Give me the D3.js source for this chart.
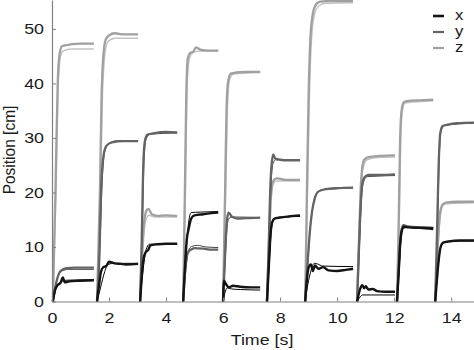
<!DOCTYPE html>
<html>
<head>
<meta charset="utf-8">
<script src="https://cdn.jsdelivr.net/npm/d3@7"></script>
<style>
  html, body { margin: 0; padding: 0; background: #fff; }
  svg { display: block; font-family: "Liberation Sans", Arial, sans-serif; }
</style>
</head>
<body>
<svg id="chart" width="474" height="350"></svg>
<script>
// ---------- data (time [s], position [cm]) ----------
const channels = ["x", "y", "z"];
const xTicks = [0, 2, 4, 6, 8, 10, 12, 14];
const yTicks = [0, 10, 20, 30, 40, 50];

// each channel: list of step segments, each a list of [t, value]
const zMeasured = [
  [[0.03,0],[0.12,20],[0.2,40],[0.27,45.5],[0.35,46.8],[0.5,47.0],[0.7,47.2],[1.0,47.3],[1.47,47.3]],
  [[1.58,0],[1.68,20],[1.74,38],[1.8,45],[1.88,48],[2.0,48.8],[2.2,49.2],[2.5,49.0],[3.02,49.0]],
  [[3.09,0],[3.15,8],[3.22,14],[3.3,16.5],[3.38,17.0],[3.5,16.0],[3.7,15.7],[4.0,15.8],[4.39,15.7]],
  [[4.6,0],[4.66,20],[4.71,38],[4.76,44.5],[4.85,45.6],[4.95,45.8],[5.05,46.6],[5.2,46.2],[5.5,46.0],[5.83,46.0]],
  [[6.0,0],[6.07,20],[6.12,35],[6.18,40.5],[6.27,41.8],[6.45,42.0],[6.8,42.1],[7.3,42.1]],
  [[7.54,0],[7.6,9],[7.66,18],[7.72,21.5],[7.8,22.4],[7.9,22.6],[8.2,22.3],[8.7,22.3]],
  [[8.88,0],[8.94,20],[9.0,38],[9.06,48],[9.14,52.5],[9.24,54.3],[9.4,55.0],[9.7,55.1],[10.56,55.1]],
  [[10.7,0],[10.76,10],[10.82,20],[10.88,24.5],[10.95,26.0],[11.1,26.5],[11.5,26.7],[12.03,26.8]],
  [[12.1,0],[12.16,15],[12.21,30],[12.26,35],[12.33,36.5],[12.5,36.8],[12.9,36.9],[13.37,37.0]],
  [[13.44,0],[13.5,7],[13.56,13],[13.62,16.5],[13.7,17.8],[13.85,18.2],[14.2,18.3],[14.8,18.3]]
];
const zReference = [
  [[0.03,0],[0.14,20],[0.22,40],[0.3,45],[0.4,46],[0.7,46.3],[1.47,46.3]],
  [[1.58,0],[1.7,20],[1.77,38],[1.85,45],[1.95,47.6],[2.2,48.3],[3.02,48.3]],
  [[3.09,0],[3.18,9],[3.27,14.5],[3.4,15.8],[3.6,15.5],[4.39,15.5]],
  [[4.6,0],[4.68,20],[4.73,38],[4.8,44],[4.9,45.5],[5.1,45.9],[5.83,46.0]],
  [[6.0,0],[6.09,20],[6.15,35],[6.22,40.5],[6.35,41.7],[7.3,42.0]],
  [[7.54,0],[7.62,10],[7.7,19.5],[7.78,21.8],[7.9,22.1],[8.7,22.1]],
  [[8.88,0],[8.96,20],[9.03,38],[9.1,48],[9.2,52.5],[9.35,54.2],[9.6,54.7],[10.56,54.8]],
  [[10.7,0],[10.78,10],[10.84,20],[10.92,24.8],[11.05,26.0],[11.4,26.4],[12.03,26.5]],
  [[12.1,0],[12.18,15],[12.23,30],[12.29,35],[12.38,36.4],[13.37,36.8]],
  [[13.44,0],[13.52,8],[13.58,14],[13.66,17],[13.8,17.9],[14.8,18.1]]
];
const yMeasured = [
  [[0.03,0],[0.15,3.5],[0.25,5.2],[0.35,5.8],[0.5,6.1],[0.8,6.2],[1.47,6.2]],
  [[1.58,0],[1.66,8],[1.72,20],[1.8,26.5],[1.9,28.5],[2.1,29.2],[2.5,29.4],[3.02,29.4]],
  [[3.09,0],[3.15,12],[3.2,25],[3.26,29.5],[3.35,30.6],[3.6,30.9],[4.0,31.1],[4.39,31.0]],
  [[4.6,0],[4.66,5],[4.72,8],[4.8,9.2],[4.9,9.6],[5.0,9.8],[5.3,9.7],[5.6,9.5],[5.83,9.5]],
  [[6.0,0],[6.05,6],[6.1,12],[6.15,15.5],[6.2,16.3],[6.3,15.6],[6.5,15.2],[6.8,15.3],[7.3,15.4]],
  [[7.54,0],[7.6,10],[7.65,20],[7.7,25],[7.76,27.0],[7.83,26.2],[8.0,26.0],[8.3,25.9],[8.7,25.9]],
  [[8.88,0],[8.95,6],[9.03,12],[9.12,16.5],[9.22,19],[9.35,20.2],[9.6,20.6],[10.0,20.8],[10.56,20.9]],
  [[10.7,0],[10.76,9],[10.82,17],[10.88,21.5],[10.96,22.8],[11.1,23.2],[11.5,23.2],[12.03,23.3]],
  [[12.1,0],[12.15,5],[12.2,10],[12.26,13.2],[12.33,14.0],[12.45,13.8],[12.8,13.6],[13.37,13.5]],
  [[13.44,0],[13.5,12],[13.56,25],[13.62,31],[13.7,32.2],[13.85,32.4],[14.2,32.7],[14.8,32.8]]
];
const yReference = [
  [[0.03,0],[0.2,4.5],[0.35,5.6],[0.6,5.9],[1.47,5.9]],
  [[1.58,0],[1.68,10],[1.76,22],[1.85,27.5],[2.0,29],[2.3,29.5],[3.02,29.5]],
  [[3.09,0],[3.17,14],[3.23,26],[3.3,29.8],[3.45,30.7],[4.39,30.9]],
  [[4.6,0],[4.7,6],[4.78,9.3],[4.9,10.1],[5.1,10.3],[5.4,10.0],[5.83,9.9]],
  [[6.0,0],[6.07,7],[6.13,13],[6.2,15.2],[6.35,15.5],[7.3,15.4]],
  [[7.54,0],[7.62,11],[7.68,21],[7.75,25.3],[7.85,26],[8.7,26]],
  [[8.88,0],[8.97,7],[9.05,13],[9.15,17.5],[9.28,19.8],[9.5,20.5],[10.56,20.8]],
  [[10.7,0],[10.78,10],[10.85,18.5],[10.93,22],[11.05,22.9],[12.03,23.1]],
  [[12.1,0],[12.17,6],[12.22,11],[12.29,13.5],[12.4,13.8],[13.37,13.6]],
  [[13.44,0],[13.52,13],[13.58,26],[13.65,31.3],[13.78,32.3],[14.8,32.7]]
];
const xMeasured = [
  [[0.03,0],[0.1,2.0],[0.2,3.0],[0.3,3.4],[0.38,4.4],[0.45,3.5],[0.6,3.7],[1.0,3.8],[1.47,3.9]],
  [[1.58,0],[1.65,3],[1.72,5.5],[1.8,6.3],[1.9,6.5],[2.0,7.3],[2.2,7.0],[2.4,6.9],[2.6,6.8],[3.02,6.9]],
  [[3.09,0],[3.14,4],[3.2,7.5],[3.28,9],[3.38,9.5],[3.45,10.3],[3.7,10.5],[4.0,10.6],[4.39,10.6]],
  [[4.6,0],[4.66,6],[4.72,11],[4.8,13.5],[4.88,15.2],[5.0,15.8],[5.3,16.0],[5.6,16.2],[5.83,16.3]],
  [[6.0,0],[6.03,3.8],[6.1,3.2],[6.2,2.6],[6.35,2.9],[6.6,2.7],[7.0,2.6],[7.3,2.6]],
  [[7.54,0],[7.6,6],[7.66,12],[7.72,14.5],[7.8,15.2],[8.0,15.4],[8.3,15.6],[8.7,15.8]],
  [[8.88,0],[8.94,4],[9.0,6.2],[9.08,6.8],[9.15,5.6],[9.22,6.6],[9.35,6.0],[9.5,6.3],[9.7,5.7],[10.0,5.6],[10.3,5.8],[10.56,6.0]],
  [[10.7,0],[10.75,1.2],[10.8,2.2],[10.88,3.0],[10.95,2.4],[11.0,2.8],[11.1,2.2],[11.25,2.3],[11.4,1.9],[11.7,1.8],[12.03,1.8]],
  [[12.1,0],[12.16,5.5],[12.21,10.5],[12.27,13.0],[12.34,13.7],[12.5,13.6],[12.9,13.5],[13.37,13.3]],
  [[13.44,0],[13.5,4],[13.56,7.5],[13.63,10.0],[13.72,10.8],[13.9,11.0],[14.3,11.2],[14.8,11.2]]
];
const xReference = [
  [[0.03,0],[0.15,2.5],[0.3,3.6],[0.5,3.9],[1.47,4.0]],
  [[1.58,0],[1.7,2.5],[1.85,5.5],[1.95,6.8],[2.2,7.0],[3.02,7.0]],
  [[3.09,0],[3.2,6],[3.3,9.5],[3.42,10.5],[4.39,10.6]],
  [[4.6,0],[4.7,9],[4.78,14],[4.88,16.3],[5.2,16.4],[5.83,16.5]],
  [[6.0,0],[6.06,1.5],[6.15,2.5],[6.3,2.3],[6.6,2.2],[7.3,2.1]],
  [[7.54,0],[7.62,7],[7.7,13.5],[7.78,15.0],[7.9,15.4],[8.7,15.6]],
  [[8.88,0],[8.95,2.5],[9.05,5],[9.2,7.0],[9.3,6.9],[9.5,6.5],[10.56,6.4]],
  [[10.7,0],[10.8,0.8],[10.9,1.2],[11.2,1.2],[12.03,1.2]],
  [[12.1,0],[12.18,6.5],[12.24,11.5],[12.3,13.4],[12.45,13.6],[13.37,13.5]],
  [[13.44,0],[13.52,5],[13.6,9],[13.68,10.6],[13.85,11.0],[14.8,11.1]]
];

// ---------- drawing ----------
const svg = d3.select("#chart");
const padL = 52, axisY = 301.5, padR = 474, padT = 0;
const xs = d3.scaleLinear().domain([0, 14.8]).range([padL, padR]);
const ys = d3.scaleLinear().domain([0, 55.3]).range([axisY, padT]);

const line = d3.line().x(d => xs(d[0])).y(d => ys(d[1])).curve(d3.curveMonotoneX);

const styles = {
  z: { meas: zMeasured, ref: zReference, color: "#a0a0a0", refColor: "#c4c4c4", w: 2.3 },
  y: { meas: yMeasured, ref: yReference, color: "#646464", refColor: "#444444", w: 2.3 },
  x: { meas: xMeasured, ref: xReference, color: "#141414", refColor: "#000000", w: 2.4 }
};

const plot = svg.append("g");
["z", "y", "x"].forEach(k => {
  const s = styles[k];
  plot.append("g").selectAll("path").data(s.ref).join("path")
    .attr("d", line).attr("fill", "none")
    .attr("stroke", s.refColor).attr("stroke-width", k === "z" ? 1.5 : 1);
  plot.append("g").selectAll("path").data(s.meas).join("path")
    .attr("d", line).attr("fill", "none")
    .attr("stroke", s.color).attr("stroke-width", s.w)
    .attr("stroke-linejoin", "round");
});

// axes
const axisColor = "#808080";
const stretch = "scale(1.15,1)";
const gx = svg.append("g").attr("transform", `translate(0,${axisY})`)
  .call(d3.axisBottom(xs).tickValues(xTicks).tickFormat(d3.format("d"))
    .tickSizeInner(-4).tickSizeOuter(0).tickPadding(11));
const gy = svg.append("g").attr("transform", `translate(${padL},0)`)
  .call(d3.axisLeft(ys).tickValues(yTicks).tickFormat(d3.format("d"))
    .tickSizeInner(-4).tickSizeOuter(0).tickPadding(7));
[gx, gy].forEach(g => {
  g.select(".domain").attr("stroke", axisColor).attr("stroke-width", 1.2);
  g.selectAll(".tick line").attr("stroke", axisColor).attr("stroke-width", 1);
  g.selectAll(".tick text").attr("fill", "#1a1a1a").attr("font-size", 15.5)
    .attr("font-family", "Liberation Sans, Arial, sans-serif")
    .attr("transform", stretch);
});

svg.append("text")
  .attr("transform", "translate(15,150) scale(1.08,1) rotate(-90)")
  .attr("text-anchor", "middle").attr("font-size", 15.5).attr("fill", "#1a1a1a")
  .text("Position [cm]");
svg.append("text")
  .attr("transform", "translate(262,345) " + stretch)
  .attr("text-anchor", "middle").attr("font-size", 15.5).attr("fill", "#1a1a1a")
  .text("Time [s]");

// legend
const legY = d3.scalePoint().domain(channels).range([16, 48]);
const leg = svg.append("g");
channels.forEach(k => {
  const s = styles[k];
  leg.append("line").attr("x1", 433).attr("x2", 444)
    .attr("y1", legY(k)).attr("y2", legY(k))
    .attr("stroke", s.color).attr("stroke-width", k === "x" ? 2.6 : 2.2);
  leg.append("text")
    .attr("transform", `translate(455,${legY(k)}) ${stretch}`)
    .attr("dy", "0.3em")
    .attr("font-size", 14.5).attr("fill", "#1a1a1a").text(k);
});
</script>
</body>
</html>
